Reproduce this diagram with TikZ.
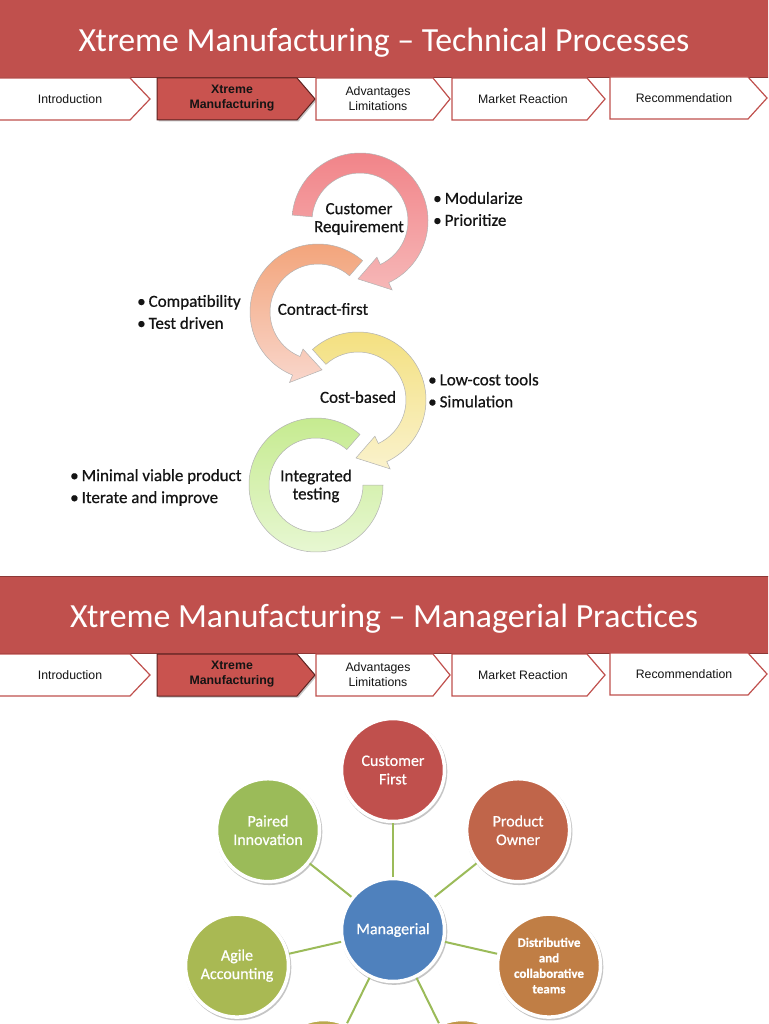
\documentclass[tikz,border=0pt]{standalone}
\usepackage{fontspec}
\setmainfont{Carlito}
\newfontfamily\heavy[FakeBold=0.6]{Carlito}
\newfontfamily\arialf{Liberation Sans}
\usetikzlibrary{calc,shadows}
\definecolor{barred}{HTML}{C0504D}
\definecolor{bardark}{HTML}{8C3836}
\definecolor{chevfill}{HTML}{C9534F}
\definecolor{chevdark}{HTML}{5E2321}
\definecolor{redA}{HTML}{F18388}
\definecolor{redB}{HTML}{F6B7B7}
\definecolor{oraA}{HTML}{F2A277}
\definecolor{oraB}{HTML}{F9D6CB}
\definecolor{yelA}{HTML}{F3DF7C}
\definecolor{yelB}{HTML}{FAF2CC}
\definecolor{grnA}{HTML}{C4EA8C}
\definecolor{grnB}{HTML}{E9F8D6}
\definecolor{mblue}{HTML}{4F81BD}
\definecolor{sA}{HTML}{C0504D}
\definecolor{sB}{HTML}{C0654A}
\definecolor{sC}{HTML}{C07E45}
\definecolor{sD}{HTML}{C0964A}
\definecolor{sE}{HTML}{BAA84E}
\definecolor{sF}{HTML}{A9B953}
\definecolor{sG}{HTML}{9BBB59}
\definecolor{linkgreen}{HTML}{9BBB59}
\definecolor{txt}{HTML}{141414}
\newcommand\mychev[5]{%
  \path[#5] (#1,#4) -- (#2,#4) -- (#3,#4+21) -- (#2,#4+42) -- (#1,#4+42) -- cycle;}
\newcommand\circarrow[7]{%
  \path[#7] ($(#1)+(#4:#2)$) arc[start angle=#4, end angle=#5, radius=#2]
    -- ($(#1)+(#5:#2+8)$) -- ($(#1)+(#6:{(#2+#3)/2})$) -- ($(#1)+(#5:#3-8)$)
    -- ($(#1)+(#5:#3)$) arc[start angle=#5, end angle=#4, radius=#3] -- cycle;}
\begin{document}
\begin{tikzpicture}[x=1pt,y=-1pt,
  chevtext/.style={font=\arialf\fontsize{12.3}{15}\selectfont, align=center, inner sep=0, text=txt},
  chevwhite/.style={fill=white, draw=barred, line width=1.2pt},
  chevred/.style={fill=chevfill, draw=chevdark, line width=1pt, drop shadow={opacity=0.45, shadow xshift=1.5pt, shadow yshift=-1.5pt}},
  titletext/.style={font=\fontsize{33.8}{40}\selectfont, text=white, inner sep=0, anchor=base},
  bar/.style={fill=barred, draw=bardark, line width=0.8pt},
  arclabel/.style={font=\heavy\fontsize{17}{18}\selectfont, align=center, inner sep=0, text=txt},
  bullets/.style={font=\heavy\fontsize{17}{22}\selectfont, align=left, inner sep=0, anchor=west, text=txt},
  arcline/.style={draw=black!30, line width=0.5pt},
  sat/.style={circle, minimum size=103pt, draw=white, line width=3.5pt, text=white, align=center,
    font=\heavy\fontsize{16}{18.5}\selectfont, inner sep=0,
    drop shadow={opacity=0.45, shadow xshift=1pt, shadow yshift=-1.5pt, shadow scale=1.035}},
  link/.style={draw=linkgreen, line width=2pt},
]
\useasboundingbox (0,0) rectangle (768,1024);
\clip (0,0) rectangle (768,1024);
\fill[white] (0,0) rectangle (768,1024);

% ===== Panel 1 =====
\path[bar] (-1,-1) rectangle (769,77);
\node[titletext] (title1) at (384,51.5) {Xtreme Manufacturing – Technical Processes};

\mychev{-2}{130}{150}{78}{chevwhite}
\mychev{157}{297}{315}{78}{chevred}
\mychev{316}{433}{450}{78}{chevwhite}
\mychev{452}{587}{605}{78}{chevwhite}
\mychev{610}{748}{767}{77}{chevwhite}
\node[chevtext] (intro1) at (70,99) {Introduction};
\node[chevtext, font=\arialf\bfseries\fontsize{12.3}{15}\selectfont] (xm1) at (232,98.5) {Xtreme\\Manufacturing};
\node[chevtext] (adv1) at (378,98.5) {Advantages\\Limitations};
\node[chevtext] (mkt1) at (523,99) {Market Reaction};
\node[chevtext] (rec1) at (684,98) {Recommendation};

% circular arrows
\coordinate (c1) at (360,221);
\coordinate (c2) at (318,312);
\coordinate (c3) at (358,400);
\coordinate (c4) at (316,485);

\path[arcline, top color=grnA, bottom color=grnB]
  ($(c4)+(311:67)$) arc[start angle=311, end angle=0, radius=67]
  -- ($(c4)+(0:47)$) arc[start angle=0, end angle=311, radius=47] -- cycle;
\circarrow{c3}{68}{48}{228}{425}{452}{arcline, top color=yelA, bottom color=yelB}
\circarrow{c2}{68}{48}{311}{112}{86}{arcline, top color=oraA, bottom color=oraB}
\circarrow{c1}{68}{48}{185}{425}{452}{arcline, top color=redA, bottom color=redB}

\node[arclabel] (lcr) at (359,219) {Customer\\Requirement};
\node[arclabel] (lcf) at (323,309) {Contract-first};
\node[arclabel] (lcb) at (358,397) {Cost-based};
\node[arclabel] (lit) at (316,486) {Integrated\\testing};

\node[bullets] (b1) at (433,209) {•\hspace{3pt}Modularize\\•\hspace{3pt}Prioritize};
\node[bullets] (b2) at (137,312) {•\hspace{3pt}Compatibility\\•\hspace{3pt}Test driven};
\node[bullets] (b3) at (428,390.5) {•\hspace{3pt}Low-cost tools\\•\hspace{3pt}Simulation};
\node[bullets] (b4) at (70,487.5) {•\hspace{3pt}Minimal viable product\\•\hspace{3pt}Iterate and improve};

% ===== Panel 2 =====
\path[bar] (-1,576) rectangle (769,653);
\node[titletext] (title2) at (384,627.5) {Xtreme Manufacturing – Managerial Practices};

\mychev{-2}{130}{150}{654}{chevwhite}
\mychev{157}{297}{315}{654}{chevred}
\mychev{316}{433}{450}{654}{chevwhite}
\mychev{452}{587}{605}{654}{chevwhite}
\mychev{610}{748}{767}{653}{chevwhite}
\node[chevtext] (intro2) at (70,675) {Introduction};
\node[chevtext, font=\arialf\bfseries\fontsize{12.3}{15}\selectfont] (xm2) at (232,674.5) {Xtreme\\Manufacturing};
\node[chevtext] (adv2) at (378,674.5) {Advantages\\Limitations};
\node[chevtext] (mkt2) at (523,675) {Market Reaction};
\node[chevtext] (rec2) at (684,674) {Recommendation};

\node[sat, fill=mblue] (m) at (393,930) {Managerial};
\node[sat, fill=sA] (s0) at (393,770) {Customer\\First};
\node[sat, fill=sB] (s1) at (518.1,830.2) {Product\\Owner};
\node[sat, fill=sC, font=\heavy\bfseries\fontsize{13}{15.5}\selectfont] (s2) at (549,965.6) {Distributive\\and\\collaborative\\teams};
\node[sat, fill=sD] (s3) at (462.4,1071) {};
\node[sat, fill=sE] (s4) at (323.6,1071) {};
\node[sat, fill=sF] (s5) at (237,965.6) {Agile\\Accounting};
\node[sat, fill=sG] (s6) at (268,830.2) {Paired\\Innovation};
\foreach \s in {s0,s1,s2,s3,s4,s5,s6} \draw[link] (m) -- (\s);
\end{tikzpicture}
\end{document}
